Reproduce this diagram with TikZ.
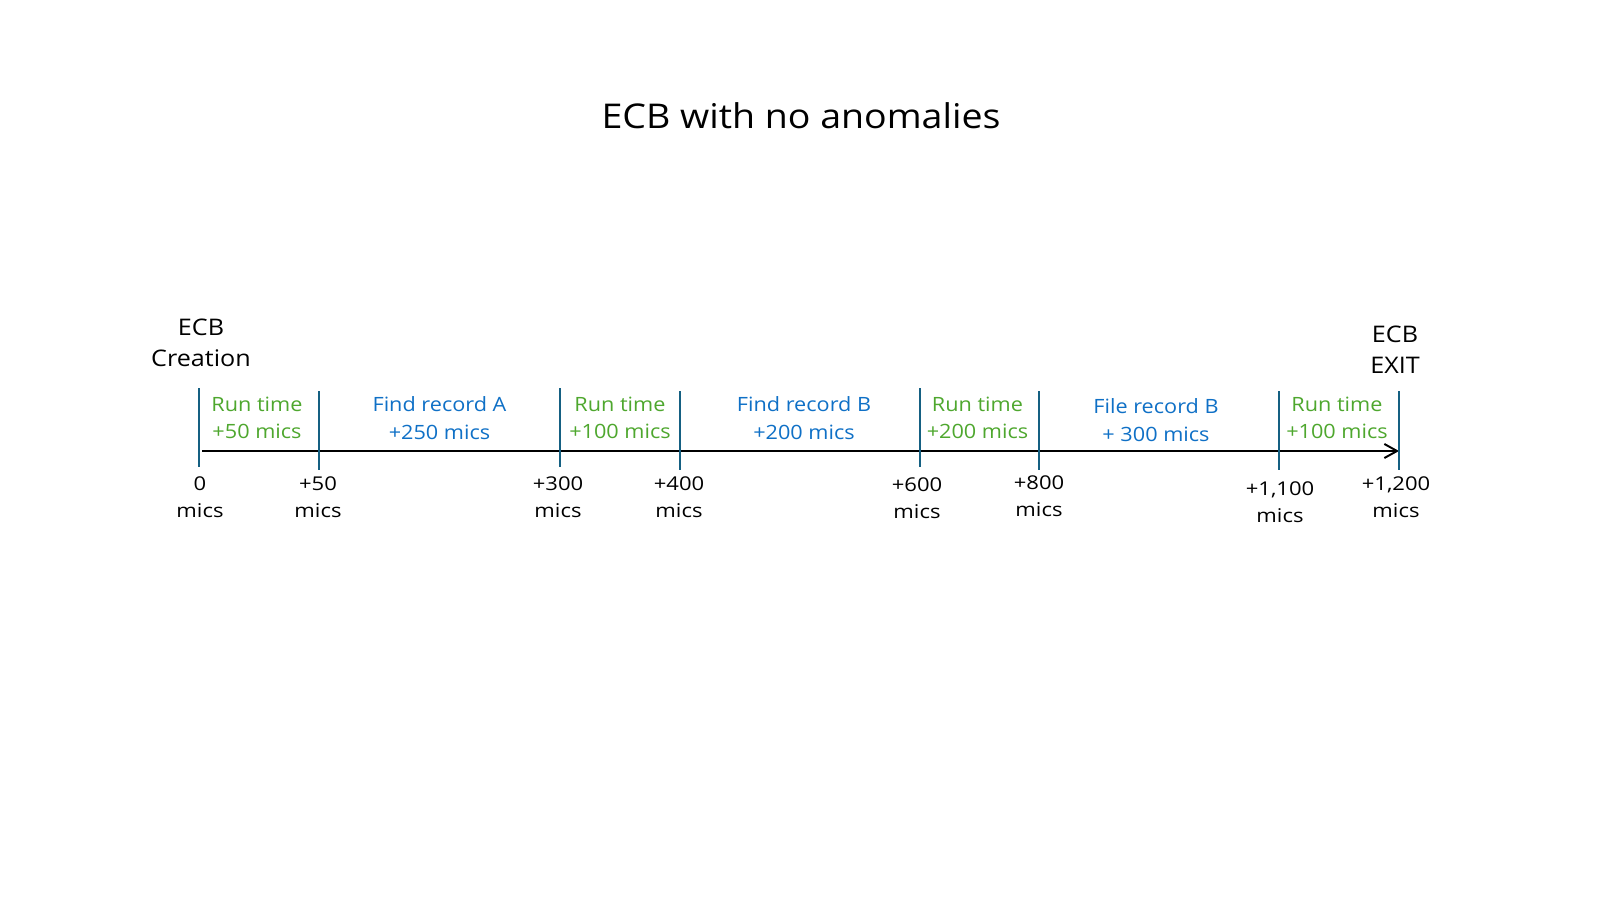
\documentclass[tikz,border=0pt]{standalone}
\usepackage{fontspec}
\setmainfont{Open Sans}[FakeStretch=1.1]
\newfontfamily\timefont{Open Sans}[FakeStretch=1.16]
\usepackage{tikz}
\usetikzlibrary{arrows.meta, positioning, calc}
\definecolor{runcolor}{RGB}{78,167,46}
\definecolor{findcolor}{RGB}{15,112,198}
\definecolor{tickcolor}{RGB}{21,96,130}
\tikzset{
    titletext/.style={
        inner sep=0pt,
        font=\fontsize{9.7}{11}\selectfont
    },
    eventlabel/.style={
        inner sep=0pt,
        align=center,
        font=\fontsize{6.5}{8.8}\selectfont
    },
    runlabel/.style={
        inner sep=0pt,
        align=center,
        text=runcolor,
        font=\fontsize{5.6}{7.8}\selectfont
    },
    findlabel/.style={
        runlabel,
        text=findcolor
    },
    timelabel/.style={
        inner sep=0pt,
        align=center,
        font=\timefont\fontsize{5.4}{7.7}\selectfont
    },
    tickmark/.style={
        draw=tickcolor,
        line width=0.7pt
    },
    timeaxis/.style={
        draw=black,
        line width=0.55pt,
        -{Straight Barb[length=3.6pt, width=4pt]}
    }
}
\begin{document}
\begin{tikzpicture}[x=0.01cm, y=-0.01cm]
\useasboundingbox (0,0) rectangle (1600,900);

% Title
\node[titletext] (title) at (801,116) {ECB with no anomalies};

% Points on the axis
\coordinate (t0) at (199,451);
\coordinate (t1) at (319,451);
\coordinate (t2) at (560,451);
\coordinate (t3) at (680,451);
\coordinate (t4) at (920,451);
\coordinate (t5) at (1039,451);
\coordinate (t6) at (1279,451);
\coordinate (t7) at (1399,451);

% Time axis
\draw[timeaxis] ($(t0)+(3,0)$) coordinate (axstart) -- (t7);

% Tick marks
\draw[tickmark] ($(t0)+(0,-63)$) -- ($(t0)+(0,16)$);
\draw[tickmark] ($(t1)+(0,-60)$) -- ($(t1)+(0,19)$);
\draw[tickmark] ($(t2)+(0,-63)$) -- ($(t2)+(0,16)$);
\draw[tickmark] ($(t3)+(0,-60)$) -- ($(t3)+(0,19)$);
\draw[tickmark] ($(t4)+(0,-63)$) -- ($(t4)+(0,16)$);
\draw[tickmark] ($(t5)+(0,-60)$) -- ($(t5)+(0,19)$);
\draw[tickmark] ($(t6)+(0,-60)$) -- ($(t6)+(0,19)$);
\draw[tickmark] ($(t7)+(0,-60)$) -- ($(t7)+(0,19)$);

% Start and end
\node[eventlabel] (creation) at ($(t0)+(2,-108)$) {ECB\\Creation};
\node[eventlabel] (exit) at ($(t7)+(-4,-101)$) {ECB\\EXIT};

% Segments
\node[runlabel] (run1) at ($(t0)!0.5!(t1)+(-2,-33)$) {Run time\\+50 mics};
\node[findlabel] (finda) at ($(t1)!0.5!(t2)+(0,-33)$) {Find record A\\+250 mics};
\node[runlabel] (run2) at ($(t2)!0.5!(t3)+(0,-33)$) {Run time\\+100 mics};
\node[findlabel] (findb) at ($(t3)!0.5!(t4)+(4,-33)$) {Find record B\\+200 mics};
\node[runlabel] (run3) at ($(t4)!0.5!(t5)+(-2,-33)$) {Run time\\+200 mics};
\node[findlabel] (fileb) at ($(t5)!0.5!(t6)+(-3,-31)$) {File record B\\+ 300 mics};
\node[runlabel] (run4) at ($(t6)!0.5!(t7)+(-2,-33)$) {Run time\\+100 mics};

% Times
\node[timelabel] (time0) at ($(t0)+(1,46)$) {0\\mics};
\node[timelabel] (time1) at ($(t1)+(-1,46)$) {+50\\mics};
\node[timelabel] (time2) at ($(t2)+(-2,46)$) {+300\\mics};
\node[timelabel] (time3) at ($(t3)+(-1,46)$) {+400\\mics};
\node[timelabel] (time4) at ($(t4)+(-3,47)$) {+600\\mics};
\node[timelabel] (time5) at ($(t5)+(0,45)$) {+800\\mics};
\node[timelabel] (time6) at ($(t6)+(1,51)$) {+1,100\\mics};
\node[timelabel] (time7) at ($(t7)+(-3,46)$) {+1,200\\mics};

\end{tikzpicture}
\end{document}
